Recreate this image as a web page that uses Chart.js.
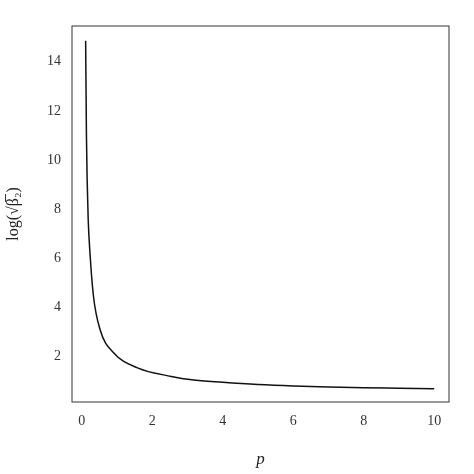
<!DOCTYPE html>
<html><head><meta charset="utf-8">
<script src="https://cdn.jsdelivr.net/npm/chart.js@4"></script>
<style>html,body{margin:0;padding:0;background:#fff}#w{width:474px;height:474px}</style>
</head><body><div id="w"><canvas id="c"></canvas></div>
<script>
const pValues = [0.107, 0.13, 0.15, 0.18, 0.23, 0.33, 0.52, 0.9, 1.58, 2.54, 3.12, 4, 5, 6, 7, 8, 9, 10];
const logValues = [14.85, 11.0, 9.2, 7.57, 6.22, 4.45, 3.09, 2.16, 1.55, 1.2, 1.06, 0.96, 0.87, 0.81, 0.77, 0.74, 0.72, 0.70];
const xTicks = [0, 2, 4, 6, 8, 10];
const yTicks = [2, 4, 6, 8, 10, 12, 14];
const font = {family: "Liberation Serif", size: 14};
const boxPlugin = {id: 'box', afterDraw(ch) {
  const a = ch.chartArea, c = ch.ctx;
  c.save(); c.strokeStyle = '#333'; c.lineWidth = 1;
  c.strokeRect(a.left, a.top, a.right - a.left, a.bottom - a.top); c.restore();
}};
new Chart(document.getElementById('c'), {
  type: 'line',
  data: {datasets: [{data: pValues.map((p, i) => ({x: p, y: logValues[i]})),
    borderColor: '#111', borderWidth: 1.5, pointRadius: 0, cubicInterpolationMode: 'monotone', fill: false}]},
  options: {
    responsive: true, maintainAspectRatio: false, animation: false,
    layout: {padding: {top: 26, right: 25, left: 0, bottom: 0}},
    plugins: {legend: {display: false}, tooltip: {enabled: false}},
    scales: {
      x: {type: 'linear', min: -0.28, max: 10.42,
        afterBuildTicks: s => { s.ticks = xTicks.map(v => ({value: v})); },
        afterFit: s => { s.height = 72; },
        grid: {display: false, drawTicks: true, tickLength: 7, tickColor: '#333'},
        border: {display: false},
        ticks: {font, color: '#333', padding: 4, maxRotation: 0},
        title: {display: true, text: 'p', font: {family: "Liberation Serif", size: 17, style: 'italic'}, color: '#222', padding: {top: 4}}},
      y: {type: 'linear', min: 0.16, max: 15.45,
        afterBuildTicks: s => { s.ticks = yTicks.map(v => ({value: v})); },
        afterFit: s => { s.width = 72; },
        grid: {display: false, drawTicks: true, tickLength: 7, tickColor: '#333'},
        border: {display: false},
        ticks: {font, color: '#333', padding: 4},
        title: {display: true, text: 'log(√β̅₂)', font: {family: "Liberation Serif", size: 16}, color: '#222', padding: {bottom: 2}}}
    }
  },
  plugins: [boxPlugin]
});
</script></body></html>
